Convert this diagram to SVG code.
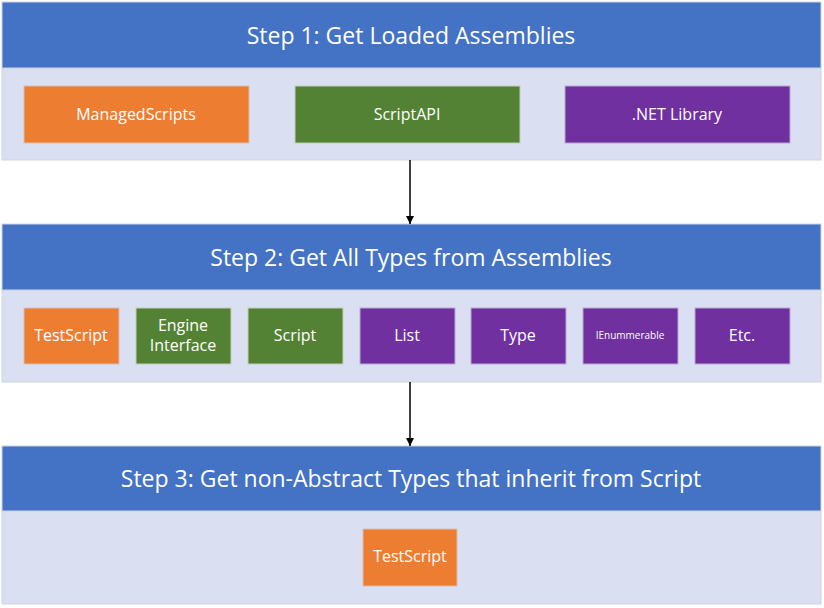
<svg xmlns="http://www.w3.org/2000/svg" width="824" height="608" viewBox="0 0 824 608">
<defs>
<style>
.hd{fill:#4472c4;stroke:#d0d4e0;stroke-width:1}
.bd{fill:#dae0f2;stroke:#d0d4e0;stroke-width:1}
.o{fill:#ed7d31;stroke:#d5c0b8}
.g{fill:#548235;stroke:#c0cfb8}
.p{fill:#7030a0;stroke:#b8a8d0}
text{font-family:"Segoe UI","Open Sans","Liberation Sans",sans-serif;fill:#fff;text-anchor:middle;dominant-baseline:central}
.ht{font-size:23px}
.bt{font-size:16px}
.conn line{stroke:#000;stroke-width:1.5}
</style>
<marker id="ah" viewBox="0 0 10 10" refX="10" refY="5" markerWidth="8" markerHeight="8" orient="auto" markerUnits="userSpaceOnUse"><path d="M0,0L10,5L0,10z" fill="#000"/></marker>
</defs>
<rect width="824" height="608" fill="#fff"/>
<g id="step1">
<rect class="bd" x="2" y="68" width="819" height="92"/>
<rect class="hd" x="2" y="2" width="819" height="66"/>
<text class="ht" x="411" y="35">Step 1: Get Loaded Assemblies</text>
</g>
<g id="managedscripts"><rect class="o" x="24" y="86" width="225" height="57"/><text class="bt" x="136" y="114">ManagedScripts</text></g>
<g id="scriptapi"><rect class="g" x="295" y="86" width="225" height="57"/><text class="bt" x="407" y="114">ScriptAPI</text></g>
<g id="netlib"><rect class="p" x="565" y="86" width="225" height="57"/><text class="bt" x="677" y="114">.NET Library</text></g>
<g id="step2">
<rect class="bd" x="2" y="290" width="819" height="92"/>
<rect class="hd" x="2" y="224" width="819" height="66"/>
<text class="ht" x="411" y="257">Step 2: Get All Types from Assemblies</text>
</g>
<g id="testscript1"><rect class="o" x="24" y="308" width="95" height="56"/><text class="bt" x="71" y="335">TestScript</text></g>
<g id="engine"><rect class="g" x="136" y="308" width="95" height="56"/><text class="bt" x="183" y="325">Engine</text><text class="bt" x="183" y="345">Interface</text></g>
<g id="script"><rect class="g" x="248" y="308" width="95" height="56"/><text class="bt" x="295" y="335">Script</text></g>
<g id="list"><rect class="p" x="360" y="308" width="95" height="56"/><text class="bt" x="407" y="335">List</text></g>
<g id="type"><rect class="p" x="471" y="308" width="95" height="56"/><text class="bt" x="518" y="335">Type</text></g>
<g id="ienum"><rect class="p" x="583" y="308" width="95" height="56"/><text x="630" y="335" font-size="10">IEnummerable</text></g>
<g id="etc"><rect class="p" x="695" y="308" width="95" height="56"/><text class="bt" x="742" y="335">Etc.</text></g>
<g id="step3">
<rect class="bd" x="2" y="511" width="819" height="93"/>
<rect class="hd" x="2" y="446" width="819" height="65"/>
<text class="ht" x="411" y="478">Step 3: Get non-Abstract Types that inherit from Script</text>
</g>
<g id="testscript2"><rect class="o" x="363" y="529" width="94" height="57"/><text class="bt" x="410" y="556">TestScript</text></g>
<g class="conn" id="connectors">
<line x1="410" y1="160" x2="410" y2="224" marker-end="url(#ah)"/>
<line x1="410" y1="382" x2="410" y2="446" marker-end="url(#ah)"/>
</g>
</svg>
